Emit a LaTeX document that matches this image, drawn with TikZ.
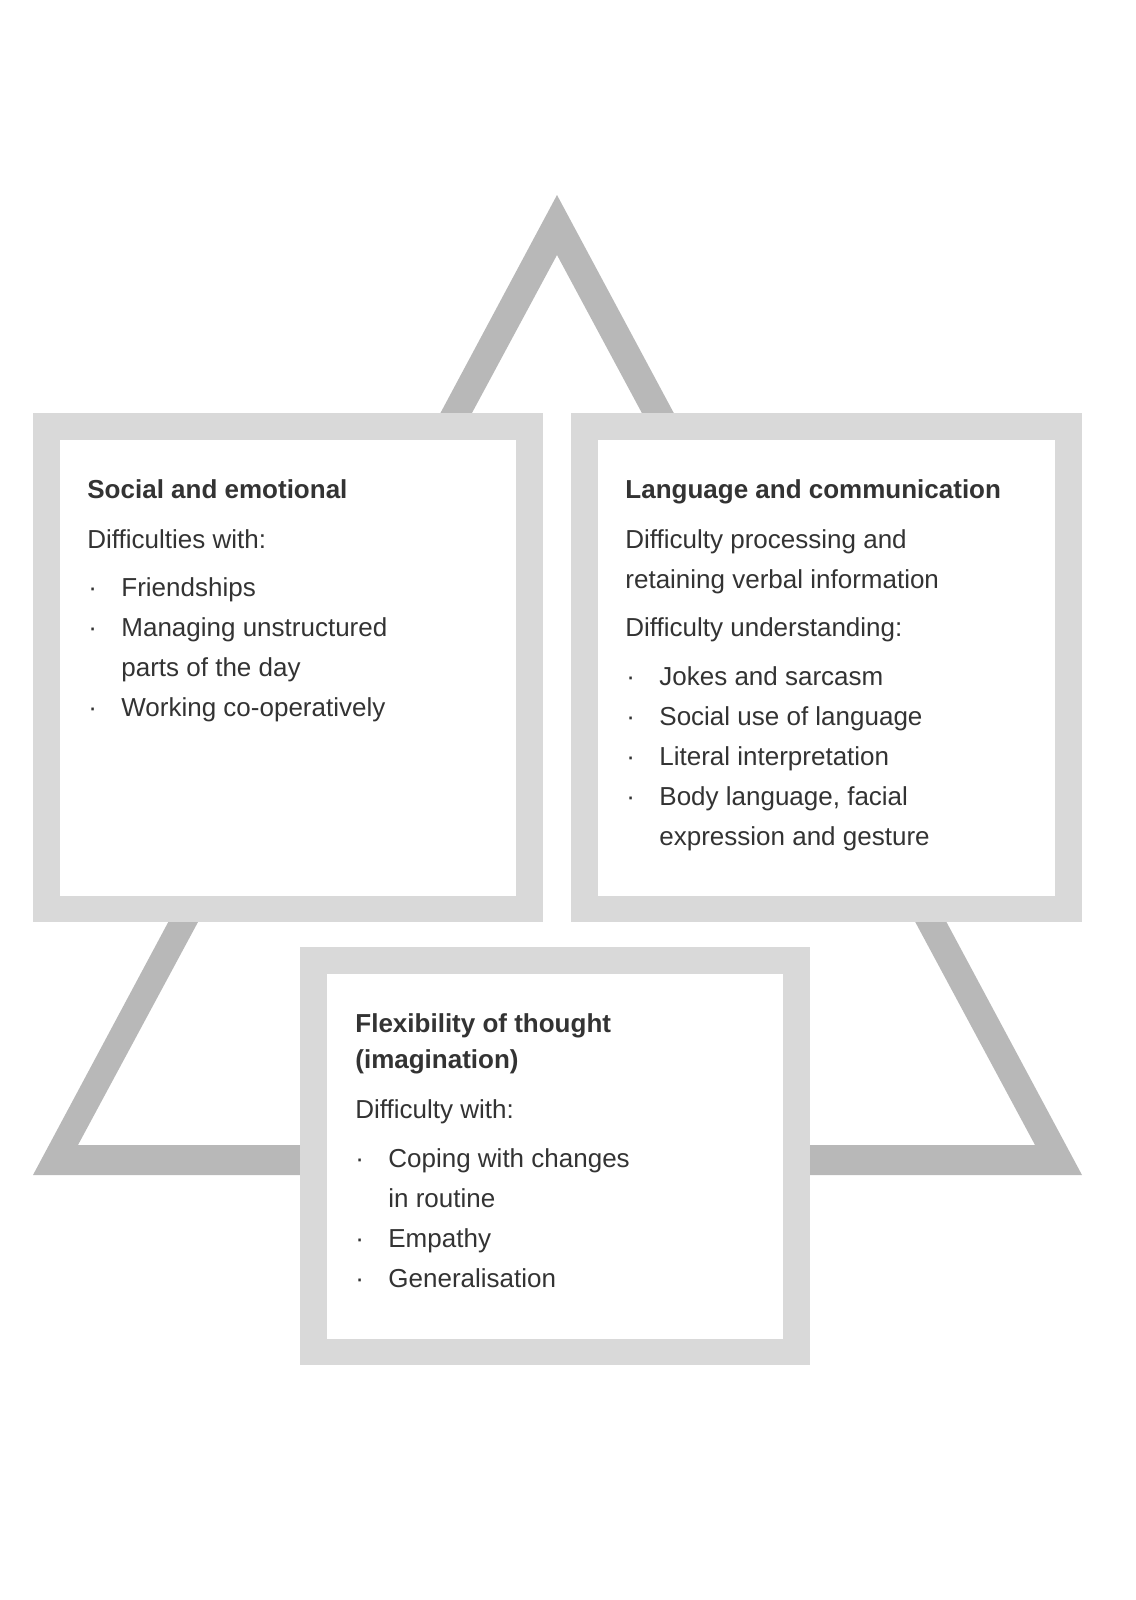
\documentclass[tikz,border=0pt]{standalone}
\usepackage{fontspec}
\setmainfont{Liberation Sans}
\definecolor{tri}{HTML}{B8B8B8}
\definecolor{frame}{HTML}{D9D9D9}
\definecolor{txt}{HTML}{333333}
\begin{document}
\begin{tikzpicture}[x=0.5pt,y=-0.5pt,
  ln/.style={anchor=base west,inner sep=0pt,text=txt,font=\fontsize{13}{15}\selectfont},
  hd/.style={ln,font=\fontsize{13}{15}\selectfont\bfseries}]
\useasboundingbox (0,0) rectangle (1135,1600);
\fill[tri,even odd rule] (557,195)--(33,1175)--(1082,1175)--cycle (557,255)--(78,1145)--(1035,1145)--cycle;
\foreach \a/\b/\c/\d in {33/413/543/922,571/413/1082/922,300/947/810/1365}{
  \fill[frame] (\a,\b) rectangle (\c,\d);
  \fill[white] (\a+27,\b+27) rectangle (\c-27,\d-26);}
% box 1
\node[hd] (a1) at (87,498) {Social and emotional};
\node[ln] (a2) at (87,548) {Difficulties with:};
\foreach \y/\t [count=\i] in {596/Friendships,636/Managing unstructured,716/Working co-operatively}{
  \node[ln] (ab\i) at (88,\y) {·}; \node[ln] (at\i) at (121,\y) {\t};}
\node[ln] (a3) at (121,676) {parts of the day};
% box 2
\node[hd] (b1) at (625,498) {Language and communication};
\node[ln] (b2) at (625,548) {Difficulty processing and};
\node[ln] (b3) at (625,588) {retaining verbal information};
\node[ln] (b4) at (625,636) {Difficulty understanding:};
\foreach \y/\t [count=\i] in {685/Jokes and sarcasm,725/Social use of language,765/Literal interpretation,805/{Body language, facial}}{
  \node[ln] (bb\i) at (626,\y) {·}; \node[ln] (bt\i) at (659,\y) {\t};}
\node[ln] (b5) at (659,845) {expression and gesture};
% box 3
\node[hd] (c1) at (355,1032) {Flexibility of thought};
\node[hd] (c2) at (355,1068) {(imagination)};
\node[ln] (c3) at (355,1118) {Difficulty with:};
\foreach \y/\t [count=\i] in {1167/Coping with changes,1247/Empathy,1287/Generalisation}{
  \node[ln] (cb\i) at (355,\y) {·}; \node[ln] (ct\i) at (388,\y) {\t};}
\node[ln] (c4) at (388,1207) {in routine};
\end{tikzpicture}
\end{document}
